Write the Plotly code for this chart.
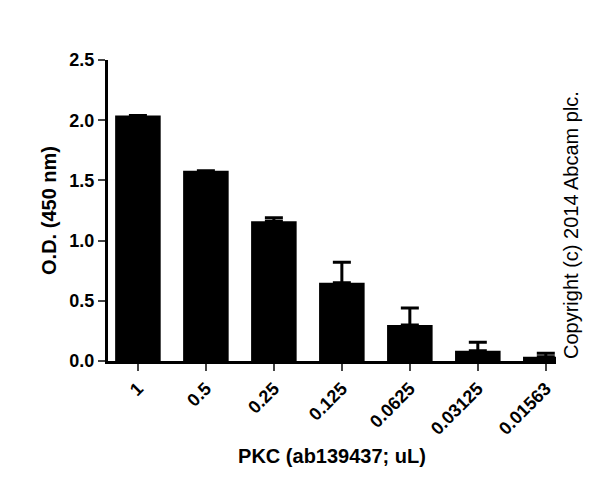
import plotly.graph_objects as go

doses = ["1", "0.5", "0.25", "0.125", "0.0625", "0.03125", "0.01563"]
od = [2.04, 1.58, 1.16, 0.65, 0.30, 0.085, 0.035]
err = [0.0, 0.0, 0.03, 0.17, 0.14, 0.07, 0.03]

fnt = "Liberation Sans, Arial, sans-serif"

fig = go.Figure(go.Bar(
    x=list(range(len(doses))), y=od,
    marker=dict(color="black", line=dict(width=0)),
    width=0.67,
    error_y=dict(type="data", array=err, arrayminus=[0] * len(err), symmetric=False,
                 color="black", thickness=3, width=9),
))

fig.update_layout(
    width=600, height=500,
    margin=dict(l=100, r=52, t=52, b=147),
    plot_bgcolor="white", paper_bgcolor="white",
    font=dict(family=fnt, size=18, color="black"),
    showlegend=False,
)
fig.update_xaxes(
    range=[-0.44, 6.15], tickvals=list(range(len(doses))), ticktext=doses,
    tickangle=-45, ticks="outside", ticklen=7, tickwidth=2,
    showline=True, linewidth=3, linecolor="black", showgrid=False,
    tickfont=dict(family=fnt, size=18, color="black", weight="bold"),
    title=dict(text="<b>PKC (ab139437; uL)</b>", font=dict(size=20), standoff=12),
)
fig.update_yaxes(
    range=[0, 2.5], dtick=0.5, tickformat=".1f",
    ticks="outside", ticklen=7, tickwidth=2,
    showline=True, linewidth=3, linecolor="black", showgrid=False, zeroline=False,
    tickfont=dict(family=fnt, size=18, color="black", weight="bold"),
    title=dict(text="<b>O.D. (450 nm)</b>", font=dict(size=20), standoff=8),
)
fig.add_annotation(
    text="Copyright (c) 2014 Abcam plc.", textangle=-90,
    xref="paper", yref="paper", x=1.0, y=0, xanchor="left", yanchor="bottom",
    xshift=2, showarrow=False, font=dict(family=fnt, size=20, color="black"),
)

fig.write_html("out.html")
